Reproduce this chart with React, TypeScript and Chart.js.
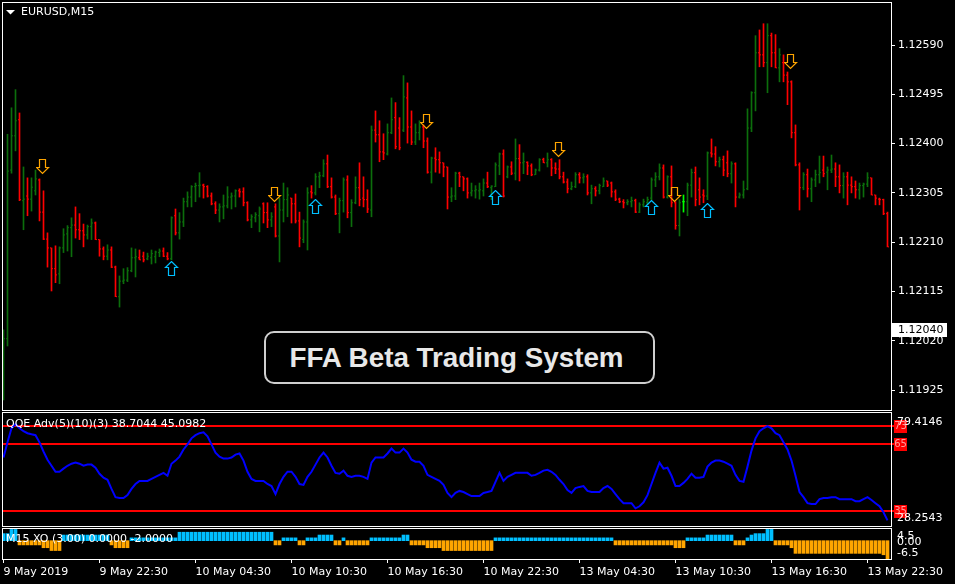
import React, { useEffect, useRef } from 'react';
import { Chart, registerables } from 'chart.js';

Chart.register(...registerables);

// ---------------- texts ----------------
const symbolLabel = 'EURUSD,M15';
const qqeLabel = 'QQE Adv(5)(10)(3) 38.7044 45.0982';
const xoLabel = 'M15 XO (3.00) 0.0000 -2.0000';
const titleText = 'FFA Beta Trading System';

// ---------------- time axis ----------------
const timeLabels = ['9 May 2019', '9 May 22:30', '10 May 04:30', '10 May 10:30', '10 May 16:30', '10 May 22:30', '13 May 04:30', '13 May 10:30', '13 May 16:30', '13 May 22:30'];
const timeLabelBars = [0, 24, 48, 72, 96, 120, 144, 168, 192, 216];

// ---------------- price axis ----------------
const priceTicks = [1.1259, 1.12495, 1.124, 1.12305, 1.1221, 1.12115, 1.1202, 1.11925];
const priceMin = 1.1188666;
const priceMax = 1.1267286;
const currentPrice = 1.1204;

// ---------------- OHLC (M15 bars) ----------------
const openP = [
  1.11916, 1.12024, 1.12349, 1.12415, 1.12446, 1.12290, 1.12299, 1.12293, 1.12309, 1.12330,
  1.12268, 1.12216, 1.12199, 1.12159, 1.12149, 1.12199, 1.12226, 1.12238, 1.12243, 1.12234,
  1.12232, 1.12224, 1.12240, 1.12247, 1.12215, 1.12197, 1.12183, 1.12195, 1.12162, 1.12105,
  1.12135, 1.12137, 1.12155, 1.12180, 1.12180, 1.12183, 1.12178, 1.12180, 1.12182, 1.12190,
  1.12193, 1.12183, 1.12178, 1.12261, 1.12228, 1.12249, 1.12288, 1.12297, 1.12317, 1.12319,
  1.12320, 1.12317, 1.12299, 1.12284, 1.12272, 1.12278, 1.12280, 1.12297, 1.12299, 1.12309,
  1.12307, 1.12286, 1.12253, 1.12257, 1.12261, 1.12284, 1.12267, 1.12253, 1.12278, 1.12222,
  1.12272, 1.12292, 1.12295, 1.12284, 1.12251, 1.12215, 1.12249, 1.12307, 1.12305, 1.12336,
  1.12338, 1.12361, 1.12317, 1.12297, 1.12265, 1.12290, 1.12330, 1.12267, 1.12286, 1.12315,
  1.12295, 1.12292, 1.12272, 1.12426, 1.12417, 1.12384, 1.12380, 1.12421, 1.12450, 1.12430,
  1.12426, 1.12488, 1.12432, 1.12403, 1.12421, 1.12432, 1.12405, 1.12345, 1.12372, 1.12369,
  1.12363, 1.12355, 1.12297, 1.12299, 1.12343, 1.12336, 1.12332, 1.12305, 1.12309, 1.12309,
  1.12309, 1.12324, 1.12315, 1.12317, 1.12357, 1.12380, 1.12336, 1.12355, 1.12343, 1.12371,
  1.12363, 1.12364, 1.12357, 1.12340, 1.12349, 1.12369, 1.12363, 1.12369, 1.12353, 1.12351,
  1.12336, 1.12326, 1.12313, 1.12317, 1.12340, 1.12334, 1.12336, 1.12305, 1.12313, 1.12309,
  1.12317, 1.12328, 1.12324, 1.12307, 1.12293, 1.12288, 1.12286, 1.12288, 1.12290, 1.12268,
  1.12282, 1.12286, 1.12295, 1.12330, 1.12336, 1.12353, 1.12297, 1.12336, 1.12286, 1.12242,
  1.12288, 1.12288, 1.12320, 1.12344, 1.12311, 1.12301, 1.12299, 1.12382, 1.12380, 1.12365,
  1.12369, 1.12363, 1.12342, 1.12361, 1.12297, 1.12301, 1.12313, 1.12430, 1.12498, 1.12575,
  1.12571, 1.12556, 1.12608, 1.12575, 1.12546, 1.12556, 1.12532, 1.12519, 1.12421, 1.12359,
  1.12315, 1.12340, 1.12313, 1.12330, 1.12340, 1.12349, 1.12345, 1.12349, 1.12351, 1.12336,
  1.12319, 1.12336, 1.12320, 1.12317, 1.12311, 1.12319, 1.12322, 1.12334, 1.12301, 1.12293,
  1.12292, 1.12265,
];
const highP = [
  1.12041, 1.12418, 1.12469, 1.12504, 1.12459, 1.12355, 1.12334, 1.12334, 1.12349, 1.12332,
  1.12309, 1.12228, 1.12199, 1.12203, 1.12201, 1.12236, 1.12242, 1.12257, 1.12278, 1.12265,
  1.12245, 1.12243, 1.12255, 1.12249, 1.12215, 1.12201, 1.12205, 1.12201, 1.12164, 1.12145,
  1.12159, 1.12161, 1.12199, 1.12197, 1.12195, 1.12191, 1.12189, 1.12195, 1.12193, 1.12197,
  1.12199, 1.12190, 1.12259, 1.12274, 1.12267, 1.12295, 1.12307, 1.12319, 1.12324, 1.12344,
  1.12322, 1.12319, 1.12305, 1.12288, 1.12284, 1.12301, 1.12317, 1.12305, 1.12311, 1.12313,
  1.12315, 1.12288, 1.12263, 1.12267, 1.12278, 1.12286, 1.12286, 1.12267, 1.12284, 1.12295,
  1.12324, 1.12315, 1.12295, 1.12303, 1.12268, 1.12253, 1.12315, 1.12319, 1.12342, 1.12345,
  1.12369, 1.12378, 1.12334, 1.12301, 1.12295, 1.12334, 1.12338, 1.12292, 1.12336, 1.12363,
  1.12336, 1.12311, 1.12434, 1.12463, 1.12444, 1.12419, 1.12438, 1.12488, 1.12479, 1.12450,
  1.12531, 1.12517, 1.12463, 1.12438, 1.12444, 1.12436, 1.12411, 1.12374, 1.12392, 1.12384,
  1.12363, 1.12355, 1.12315, 1.12345, 1.12345, 1.12336, 1.12334, 1.12324, 1.12319, 1.12324,
  1.12332, 1.12345, 1.12319, 1.12363, 1.12382, 1.12388, 1.12357, 1.12365, 1.12409, 1.12398,
  1.12382, 1.12365, 1.12361, 1.12351, 1.12371, 1.12372, 1.12382, 1.12371, 1.12363, 1.12369,
  1.12345, 1.12332, 1.12326, 1.12344, 1.12344, 1.12342, 1.12340, 1.12320, 1.12317, 1.12322,
  1.12334, 1.12328, 1.12326, 1.12311, 1.12295, 1.12292, 1.12292, 1.12297, 1.12293, 1.12286,
  1.12293, 1.12297, 1.12334, 1.12344, 1.12361, 1.12359, 1.12338, 1.12357, 1.12288, 1.12292,
  1.12301, 1.12324, 1.12351, 1.12355, 1.12334, 1.12311, 1.12384, 1.12409, 1.12394, 1.12374,
  1.12376, 1.12386, 1.12365, 1.12363, 1.12305, 1.12328, 1.12467, 1.12500, 1.12608, 1.12619,
  1.12631, 1.12631, 1.12613, 1.12610, 1.12583, 1.12571, 1.12538, 1.12521, 1.12436, 1.12363,
  1.12344, 1.12351, 1.12334, 1.12349, 1.12376, 1.12376, 1.12355, 1.12378, 1.12363, 1.12359,
  1.12344, 1.12345, 1.12336, 1.12328, 1.12324, 1.12324, 1.12344, 1.12334, 1.12301, 1.12295,
  1.12293, 1.12268,
];
const lowP = [
  1.11906, 1.12010, 1.12343, 1.12386, 1.12290, 1.12234, 1.12261, 1.12270, 1.12301, 1.12251,
  1.12215, 1.12162, 1.12116, 1.12132, 1.12130, 1.12190, 1.12193, 1.12182, 1.12218, 1.12215,
  1.12201, 1.12216, 1.12215, 1.12215, 1.12183, 1.12176, 1.12176, 1.12161, 1.12105, 1.12085,
  1.12130, 1.12134, 1.12153, 1.12143, 1.12176, 1.12172, 1.12176, 1.12168, 1.12170, 1.12182,
  1.12182, 1.12176, 1.12176, 1.12224, 1.12216, 1.12240, 1.12278, 1.12278, 1.12288, 1.12297,
  1.12295, 1.12297, 1.12282, 1.12265, 1.12249, 1.12255, 1.12276, 1.12274, 1.12278, 1.12297,
  1.12280, 1.12251, 1.12238, 1.12249, 1.12230, 1.12247, 1.12238, 1.12240, 1.12220, 1.12172,
  1.12249, 1.12259, 1.12247, 1.12247, 1.12201, 1.12209, 1.12195, 1.12295, 1.12301, 1.12315,
  1.12336, 1.12315, 1.12295, 1.12263, 1.12228, 1.12268, 1.12257, 1.12240, 1.12284, 1.12280,
  1.12278, 1.12267, 1.12259, 1.12403, 1.12365, 1.12369, 1.12378, 1.12419, 1.12390, 1.12388,
  1.12423, 1.12401, 1.12398, 1.12398, 1.12407, 1.12392, 1.12343, 1.12324, 1.12345, 1.12343,
  1.12336, 1.12274, 1.12288, 1.12292, 1.12317, 1.12309, 1.12295, 1.12299, 1.12295, 1.12293,
  1.12299, 1.12315, 1.12292, 1.12317, 1.12340, 1.12297, 1.12334, 1.12340, 1.12330, 1.12328,
  1.12342, 1.12340, 1.12338, 1.12340, 1.12347, 1.12363, 1.12355, 1.12338, 1.12342, 1.12332,
  1.12324, 1.12305, 1.12311, 1.12315, 1.12324, 1.12324, 1.12301, 1.12284, 1.12299, 1.12303,
  1.12317, 1.12317, 1.12297, 1.12290, 1.12286, 1.12276, 1.12282, 1.12278, 1.12267, 1.12267,
  1.12278, 1.12282, 1.12292, 1.12317, 1.12330, 1.12295, 1.12295, 1.12278, 1.12235, 1.12222,
  1.12268, 1.12261, 1.12297, 1.12280, 1.12282, 1.12286, 1.12292, 1.12374, 1.12357, 1.12355,
  1.12338, 1.12336, 1.12324, 1.12278, 1.12295, 1.12295, 1.12311, 1.12423, 1.12463, 1.12548,
  1.12548, 1.12498, 1.12548, 1.12546, 1.12519, 1.12519, 1.12475, 1.12411, 1.12357, 1.12272,
  1.12311, 1.12297, 1.12288, 1.12317, 1.12324, 1.12336, 1.12311, 1.12344, 1.12317, 1.12305,
  1.12295, 1.12282, 1.12305, 1.12295, 1.12293, 1.12297, 1.12317, 1.12301, 1.12282, 1.12282,
  1.12263, 1.12201,
];
const closeP = [
  1.12024, 1.12347, 1.12415, 1.12444, 1.12292, 1.12293, 1.12293, 1.12316, 1.12332, 1.12268,
  1.12216, 1.12199, 1.12159, 1.12147, 1.12199, 1.12224, 1.12238, 1.12243, 1.12234, 1.12232,
  1.12224, 1.12240, 1.12247, 1.12215, 1.12197, 1.12183, 1.12195, 1.12162, 1.12105, 1.12135,
  1.12137, 1.12155, 1.12180, 1.12182, 1.12176, 1.12176, 1.12183, 1.12188, 1.12191, 1.12193,
  1.12183, 1.12178, 1.12257, 1.12228, 1.12249, 1.12288, 1.12297, 1.12317, 1.12319, 1.12320,
  1.12317, 1.12299, 1.12284, 1.12272, 1.12278, 1.12280, 1.12297, 1.12299, 1.12309, 1.12307,
  1.12286, 1.12253, 1.12259, 1.12263, 1.12274, 1.12267, 1.12253, 1.12259, 1.12222, 1.12272,
  1.12292, 1.12301, 1.12284, 1.12251, 1.12218, 1.12249, 1.12305, 1.12305, 1.12336, 1.12338,
  1.12361, 1.12317, 1.12297, 1.12265, 1.12290, 1.12330, 1.12267, 1.12286, 1.12315, 1.12292,
  1.12292, 1.12274, 1.12426, 1.12417, 1.12384, 1.12382, 1.12421, 1.12446, 1.12394, 1.12392,
  1.12490, 1.12432, 1.12403, 1.12421, 1.12432, 1.12405, 1.12345, 1.12372, 1.12369, 1.12363,
  1.12355, 1.12297, 1.12299, 1.12343, 1.12336, 1.12332, 1.12305, 1.12309, 1.12311, 1.12311,
  1.12324, 1.12317, 1.12318, 1.12359, 1.12380, 1.12299, 1.12355, 1.12343, 1.12371, 1.12363,
  1.12365, 1.12357, 1.12340, 1.12349, 1.12369, 1.12363, 1.12369, 1.12353, 1.12351, 1.12336,
  1.12326, 1.12313, 1.12317, 1.12340, 1.12334, 1.12336, 1.12305, 1.12313, 1.12309, 1.12319,
  1.12328, 1.12320, 1.12307, 1.12293, 1.12288, 1.12286, 1.12288, 1.12290, 1.12268, 1.12282,
  1.12288, 1.12292, 1.12330, 1.12336, 1.12353, 1.12297, 1.12336, 1.12286, 1.12242, 1.12286,
  1.12288, 1.12320, 1.12344, 1.12292, 1.12297, 1.12299, 1.12382, 1.12380, 1.12365, 1.12369,
  1.12349, 1.12342, 1.12361, 1.12297, 1.12301, 1.12311, 1.12430, 1.12498, 1.12575, 1.12571,
  1.12556, 1.12608, 1.12575, 1.12546, 1.12571, 1.12532, 1.12519, 1.12421, 1.12359, 1.12315,
  1.12340, 1.12313, 1.12330, 1.12340, 1.12344, 1.12342, 1.12349, 1.12351, 1.12336, 1.12319,
  1.12336, 1.12320, 1.12317, 1.12311, 1.12319, 1.12322, 1.12334, 1.12301, 1.12295, 1.12292,
  1.12265, 1.12201,
];

// ---------------- signal arrows ----------------
const sellArrowBars = [10, 68, 106, 139, 168, 197];
const sellArrowPrices = [1.12355, 1.12301, 1.12441, 1.12387, 1.123, 1.12557];
const buyArrowBars = [42, 78, 123, 162, 176];
const buyArrowPrices = [1.12158, 1.12277, 1.12296, 1.12275, 1.1227];

// ---------------- QQE Adv ----------------
const qqeMax = 79.4146;
const qqeMin = 28.2543;
const qqeLevels = [73, 65, 35];
const qqeValues = [
  59.0, 65.8, 72.1, 74.0, 72.1, 70.8, 69.9, 69.4, 69.0, 65.8,
  61.7, 58.0, 55.3, 52.6, 52.6, 54.0, 55.3, 56.2, 56.7, 56.2,
  55.3, 55.8, 55.8, 54.4, 51.7, 49.9, 49.0, 44.9, 41.2, 40.8,
  40.8, 42.1, 44.9, 47.1, 48.5, 48.5, 48.5, 49.4, 50.3, 51.2,
  52.1, 50.8, 56.2, 57.6, 59.4, 62.6, 64.9, 67.6, 69.0, 69.9,
  70.3, 68.5, 64.9, 61.2, 59.4, 58.5, 58.5, 59.0, 60.3, 60.8,
  57.6, 52.6, 49.4, 48.5, 48.5, 48.5, 47.1, 46.2, 42.6, 47.1,
  50.3, 52.6, 52.6, 50.3, 47.1, 46.7, 50.3, 52.6, 55.8, 59.0,
  61.2, 59.0, 55.3, 52.1, 51.7, 53.1, 50.8, 50.3, 50.8, 50.8,
  50.3, 49.4, 56.7, 59.0, 59.0, 59.0, 60.8, 63.0, 61.2, 61.2,
  63.0, 61.2, 58.0, 57.1, 57.1, 55.3, 51.2, 50.3, 49.4, 48.5,
  46.7, 43.1, 41.2, 43.1, 44.0, 43.5, 42.6, 41.7, 41.7, 41.7,
  43.1, 43.5, 44.0, 48.1, 52.1, 48.5, 50.3, 51.2, 52.1, 52.1,
  52.1, 52.1, 50.8, 51.2, 52.1, 53.1, 53.5, 52.6, 51.2, 49.0,
  47.1, 44.4, 43.1, 45.3, 45.8, 46.2, 44.0, 43.5, 43.5, 43.5,
  45.3, 46.2, 44.9, 42.6, 40.3, 38.5, 38.5, 38.5, 36.2, 37.1,
  38.9, 42.1, 47.1, 52.1, 56.7, 54.0, 54.4, 50.8, 46.2, 46.2,
  47.6, 49.4, 51.7, 49.9, 49.9, 50.3, 54.9, 56.7, 57.6, 57.6,
  57.1, 56.2, 55.3, 51.2, 48.5, 48.1, 54.9, 62.1, 67.6, 70.8,
  72.1, 73.1, 72.1, 69.9, 69.0, 65.8, 62.6, 57.6, 50.8, 43.5,
  41.2, 38.5, 38.1, 38.1, 40.3, 40.8, 40.8, 41.2, 41.2, 40.3,
  40.3, 40.3, 40.3, 39.4, 39.4, 40.3, 41.2, 39.9, 38.5, 37.1,
  34.4, 30.8,
];

// ---------------- XO histogram ----------------
const xoMax = 4.5;
const xoMin = -6.5;
const xoValues = [
  2.5, 2.5, 4, 4, -1.5, -1.5, -1.5, -1.5, -1.5, -1.5,
  -2.5, -2.5, -3.5, -3.5, -3.5, 2, 2, 2, 2, 2,
  2, 2, 2, 2, 2, 2, 2, -1.5, -2.5, -2.5,
  -2.5, -2.5, 1, 1, 1, 1, 1, 1, 1, 1,
  1, 1, 1, 1, 3, 3, 3, 3, 3, 3,
  3, 3, 3, 3, 3, 3, 3, 3, 3, 3,
  3, 3, 3, 3, 3, 3, 3, 3, -1.5, -1.5,
  1, 1, 1, 1, -1.5, -1.5, 1, 1, 1, 2,
  2, 2, 2, -1.5, -1.5, 1, -1.5, -1.5, -1.5, -1.5,
  -1.5, -1.5, 1, 1, 1, 1, 1, 1, 1, 1,
  2, 2, -1.5, -1.5, -1.5, -1.5, -2.5, -2.5, -2.5, -2.5,
  -3.5, -3.5, -3.5, -3.5, -3.5, -3.5, -3.5, -3.5, -3.5, -3.5,
  -3.5, -3.5, -3.5, 1, 1, 1, 1, 1, 1, 1,
  1, 1, 1, 1, 1, 1, 1, 1, 1, 1,
  1, 1, 1, 1, 1, 1, 1, 1, 1, 1,
  1, 1, 1, -1.5, -1.5, -1.5, -1.5, -1.5, -1.5, -1.5,
  -1.5, -1.5, -1.5, -1.5, -1.5, -1.5, -1.5, -1.5, -2.5, -2.5,
  -2.5, 1, 1, 1, 1, 1, 2, 2, 2, 2,
  2, 2, 2, -1.5, -1.5, -1.5, 1, 2, 2.5, 2.5,
  2.5, 4, 4, -1.5, -1.5, -1.5, -1.5, -2.5, -4.5, -4.5,
  -4.5, -4.5, -4.5, -4.5, -4.5, -4.5, -4.5, -4.5, -4.5, -4.5,
  -4.5, -4.5, -4.5, -4.5, -4.5, -4.5, -4.5, -4.5, -4.5, -4.5,
  -5, -6.5,
];

// ---------------- styling ----------------
const FONT = '"DejaVu Sans", "Liberation Sans", sans-serif';
const BULL = '#0c6e0c';
const BEAR = '#ff0000';
const DOJI = '#00ff00';
const SELL = '#ffa500';
const BUY = '#00bfff';
const X_MIN = -0.375;
const X_MAX = openP.length - 1 + 0.875;
const AXIS_W = 64;

Chart.defaults.font.family = FONT;
Chart.defaults.font.size = 11;
Chart.defaults.color = '#ffffff';

const barIdx = openP.map((_, i) => i);
const barColor = barIdx.map((i) => (closeP[i] > openP[i] ? BULL : closeP[i] < openP[i] ? BEAR : DOJI));

function makeArrow(color: string, up: boolean): HTMLCanvasElement {
  const c = document.createElement('canvas');
  c.width = 15;
  c.height = 16;
  const g = c.getContext('2d')!;
  const cx = up ? 7.5 : 6.5;
  const pts: [number, number][] = [
    [cx - 3, 0.5], [cx + 3, 0.5], [cx + 3, 8.5], [cx + 6, 8.5], [cx, 14.5], [cx - 6, 8.5], [cx - 3, 8.5],
  ];
  g.strokeStyle = color;
  g.lineWidth = 1.2;
  g.beginPath();
  pts.forEach(([x, y], k) => {
    const yy = up ? 15 - y : y;
    if (k === 0) g.moveTo(x, yy);
    else g.lineTo(x, yy);
  });
  g.closePath();
  g.stroke();
  return c;
}

function fitRightAxis(s: any) {
  s.width = AXIS_W;
  s.paddingTop = 0;
  s.paddingBottom = 0;
  s.paddingLeft = 0;
  s.paddingRight = 0;
}

function drawFrame(chart: any) {
  const { ctx, chartArea: a } = chart;
  ctx.save();
  ctx.strokeStyle = '#ffffff';
  ctx.lineWidth = 1;
  ctx.strokeRect(a.left + 0.5, a.top + 0.5, a.right - a.left, a.bottom - a.top);
  ctx.restore();
}

const noSmooth = {
  id: 'noSmooth',
  beforeDatasetsDraw(chart: any) {
    chart.ctx.imageSmoothingEnabled = false;
  },
};

const mainDecor = {
  id: 'mainDecor',
  afterDraw(chart: any) {
    const { ctx, chartArea: a, scales } = chart;
    drawFrame(chart);
    ctx.save();
    ctx.fillStyle = '#ffffff';
    ctx.beginPath();
    ctx.moveTo(6, 10);
    ctx.lineTo(15, 10);
    ctx.lineTo(10.5, 14.5);
    ctx.closePath();
    ctx.fill();
    ctx.font = `11px ${FONT}`;
    ctx.textBaseline = 'middle';
    ctx.textAlign = 'left';
    ctx.fillText(symbolLabel, 21, 12);
    const y = Math.round(scales.y.getPixelForValue(currentPrice));
    ctx.fillRect(a.right + 1, y - 7, 55, 14);
    ctx.fillStyle = '#000000';
    ctx.fillText(currentPrice.toFixed(5), a.right + 7, y + 0.5);
    ctx.restore();
  },
};

const qqeDecor = {
  id: 'qqeDecor',
  beforeDatasetsDraw(chart: any) {
    const { ctx, chartArea: a, scales } = chart;
    ctx.save();
    ctx.fillStyle = '#ff0000';
    qqeLevels.forEach((lv) => {
      const y = Math.round(scales.y.getPixelForValue(lv));
      ctx.fillRect(a.left, y - 1, a.right + 3 - a.left, 2);
    });
    ctx.restore();
  },
  afterDraw(chart: any) {
    const { ctx, chartArea: a, scales } = chart;
    drawFrame(chart);
    ctx.save();
    ctx.textBaseline = 'middle';
    qqeLevels.forEach((lv) => {
      const y = Math.round(scales.y.getPixelForValue(lv));
      ctx.fillStyle = '#ff0000';
      ctx.fillRect(a.right + 3, y - 6, 13, 13);
      ctx.fillStyle = '#ff9c9c';
      ctx.font = `10px ${FONT}`;
      ctx.textAlign = 'center';
      ctx.fillText(String(lv), a.right + 9.5, y + 0.5);
    });
    ctx.fillStyle = '#ffffff';
    ctx.font = `11px ${FONT}`;
    ctx.textAlign = 'left';
    ctx.fillText(qqeMax.toFixed(4), a.right + 6, a.top + 10);
    ctx.fillText(qqeMin.toFixed(4), a.right + 6, a.bottom - 8);
    ctx.fillText(qqeLabel, 6, a.top + 12);
    ctx.restore();
  },
};

const xoDecor = {
  id: 'xoDecor',
  afterDraw(chart: any) {
    const { ctx, chartArea: a, scales } = chart;
    drawFrame(chart);
    ctx.save();
    ctx.fillStyle = '#ffffff';
    ctx.font = `11px ${FONT}`;
    ctx.textBaseline = 'middle';
    ctx.textAlign = 'left';
    ctx.fillText(xoLabel, 6, a.top + 11.5);
    ctx.fillText(xoMax.toFixed(1), a.right + 6, a.top + 8);
    ctx.fillText((0).toFixed(2), a.right + 6, scales.y.getPixelForValue(0) + 1);
    ctx.fillText(xoMin.toFixed(1), a.right + 6, a.bottom - 6);
    ctx.restore();
  },
};

const hiddenX = { type: 'linear', min: X_MIN, max: X_MAX, display: false, offset: false };
const common = {
  animation: false,
  responsive: false,
  events: [],
  plugins: { legend: { display: false }, tooltip: { enabled: false } },
};

export default function App() {
  const mainRef = useRef<HTMLCanvasElement>(null);
  const qqeRef = useRef<HTMLCanvasElement>(null);
  const xoRef = useRef<HTMLCanvasElement>(null);

  useEffect(() => {
    document.body.style.margin = '0';
    document.body.style.background = '#000';
    const sellImg = makeArrow(SELL, false);
    const buyImg = makeArrow(BUY, true);
    const charts: Chart[] = [];

    charts.push(
      new Chart(mainRef.current!, {
        type: 'bar',
        data: {
          datasets: [
            {
              type: 'bar',
              label: 'Range',
              data: barIdx.map((i) => ({ x: i, y: [lowP[i], highP[i]] })),
              backgroundColor: barColor,
              borderWidth: 0,
              barThickness: 1,
              order: 4,
            } as any,
            {
              type: 'scatter',
              label: 'Open',
              data: barIdx.map((i) => ({ x: i - 0.25, y: openP[i] })),
              pointStyle: 'line',
              pointRadius: 0.5,
              pointBorderWidth: 1,
              pointBorderColor: barColor,
              pointBackgroundColor: barColor,
              order: 3,
            } as any,
            {
              type: 'scatter',
              label: 'Close',
              data: barIdx.map((i) => ({ x: i + 0.25, y: closeP[i] })),
              pointStyle: 'line',
              pointRadius: 0.5,
              pointBorderWidth: 1,
              pointBorderColor: barColor,
              pointBackgroundColor: barColor,
              order: 2,
            } as any,
            {
              type: 'scatter',
              label: 'Sell',
              data: sellArrowBars.map((b, k) => ({ x: b, y: sellArrowPrices[k] })),
              pointStyle: sellImg,
              pointRadius: 6,
              order: 1,
            } as any,
            {
              type: 'scatter',
              label: 'Buy',
              data: buyArrowBars.map((b, k) => ({ x: b, y: buyArrowPrices[k] })),
              pointStyle: buyImg,
              pointRadius: 6,
              order: 0,
            } as any,
          ],
        },
        options: {
          ...common,
          layout: { autoPadding: false, padding: { left: 2, right: 0, top: 2, bottom: 1 } },
          scales: {
            x: hiddenX,
            y: {
              type: 'linear',
              position: 'right',
              min: priceMin,
              max: priceMax,
              beginAtZero: false,
              afterBuildTicks: (s: any) => {
                s.ticks = priceTicks.map((v) => ({ value: v }));
              },
              afterFit: fitRightAxis,
              grid: { drawOnChartArea: false, drawTicks: true, tickLength: 4, color: '#ffffff', lineWidth: 1 },
              border: { display: false },
              ticks: {
                color: '#ffffff',
                padding: 3,
                font: { family: FONT, size: 11 },
                callback: (v: any) => Number(v).toFixed(5),
              },
            },
          },
        } as any,
        plugins: [noSmooth, mainDecor],
      } as any)
    );

    charts.push(
      new Chart(qqeRef.current!, {
        type: 'line',
        data: {
          datasets: [
            {
              label: 'QQE',
              data: barIdx.map((i) => ({ x: i, y: qqeValues[i] })),
              borderColor: '#0000ff',
              borderWidth: 2,
              pointRadius: 0,
              tension: 0,
              fill: false,
            },
          ],
        },
        options: {
          ...common,
          layout: { autoPadding: false, padding: { left: 2, right: 0, top: 1, bottom: 1 } },
          scales: {
            x: hiddenX,
            y: {
              type: 'linear',
              position: 'right',
              min: qqeMin,
              max: qqeMax,
              afterFit: fitRightAxis,
              grid: { display: false },
              border: { display: false },
              ticks: { display: false },
            },
          },
        } as any,
        plugins: [qqeDecor],
      } as any)
    );

    charts.push(
      new Chart(xoRef.current!, {
        type: 'bar',
        data: {
          datasets: [
            {
              label: 'XO',
              data: barIdx.map((i) => ({ x: i, y: xoValues[i] })),
              backgroundColor: xoValues.map((v) => (v >= 0 ? BUY : SELL)),
              borderWidth: 0,
              barThickness: 3,
            },
          ],
        },
        options: {
          ...common,
          layout: { autoPadding: false, padding: { left: 2, right: 0, top: 1, bottom: 0 } },
          scales: {
            x: {
              type: 'linear',
              min: X_MIN,
              max: X_MAX,
              offset: false,
              position: 'bottom',
              afterBuildTicks: (s: any) => {
                s.ticks = timeLabelBars.map((v) => ({ value: v }));
              },
              afterFit: (s: any) => {
                s.height = 25;
                s.paddingLeft = 0;
                s.paddingRight = 0;
              },
              grid: { drawOnChartArea: false, drawTicks: true, tickLength: 4, color: '#ffffff', lineWidth: 1, offset: false },
              border: { display: false },
              ticks: {
                color: '#ffffff',
                align: 'start',
                padding: 3,
                maxRotation: 0,
                minRotation: 0,
                autoSkip: false,
                font: { family: FONT, size: 11 },
                callback: (_v: any, index: number) => timeLabels[index],
              },
            },
            y: {
              type: 'linear',
              position: 'right',
              min: xoMin,
              max: xoMax,
              beginAtZero: false,
              afterFit: fitRightAxis,
              grid: { display: false },
              border: { display: false },
              ticks: { display: false },
            },
          },
        } as any,
        plugins: [xoDecor],
      } as any)
    );

    return () => charts.forEach((c) => c.destroy());
  }, []);

  return (
    <div
      style={{
        position: 'fixed',
        left: 0,
        top: 0,
        width: 955,
        height: 584,
        background: '#000000',
        overflow: 'hidden',
      }}
    >
      <canvas ref={mainRef} width={955} height={411} style={{ position: 'absolute', left: 0, top: 0 }} />
      <canvas ref={qqeRef} width={955} height={116} style={{ position: 'absolute', left: 0, top: 411 }} />
      <canvas ref={xoRef} width={955} height={57} style={{ position: 'absolute', left: 0, top: 527 }} />
      <div
        style={{
          position: 'absolute',
          left: 264,
          top: 331,
          width: 391,
          height: 53,
          boxSizing: 'border-box',
          border: '2px solid #cfcfcf',
          borderRadius: 10,
          background: '#000000',
          color: '#e8e8e8',
          fontFamily: '"Liberation Sans", Arial, sans-serif',
          fontWeight: 'bold',
          fontSize: 27.8,
          display: 'flex',
          alignItems: 'center',
          justifyContent: 'center',
          paddingRight: 6,
          whiteSpace: 'nowrap',
        }}
      >
        {titleText}
      </div>
    </div>
  );
}
